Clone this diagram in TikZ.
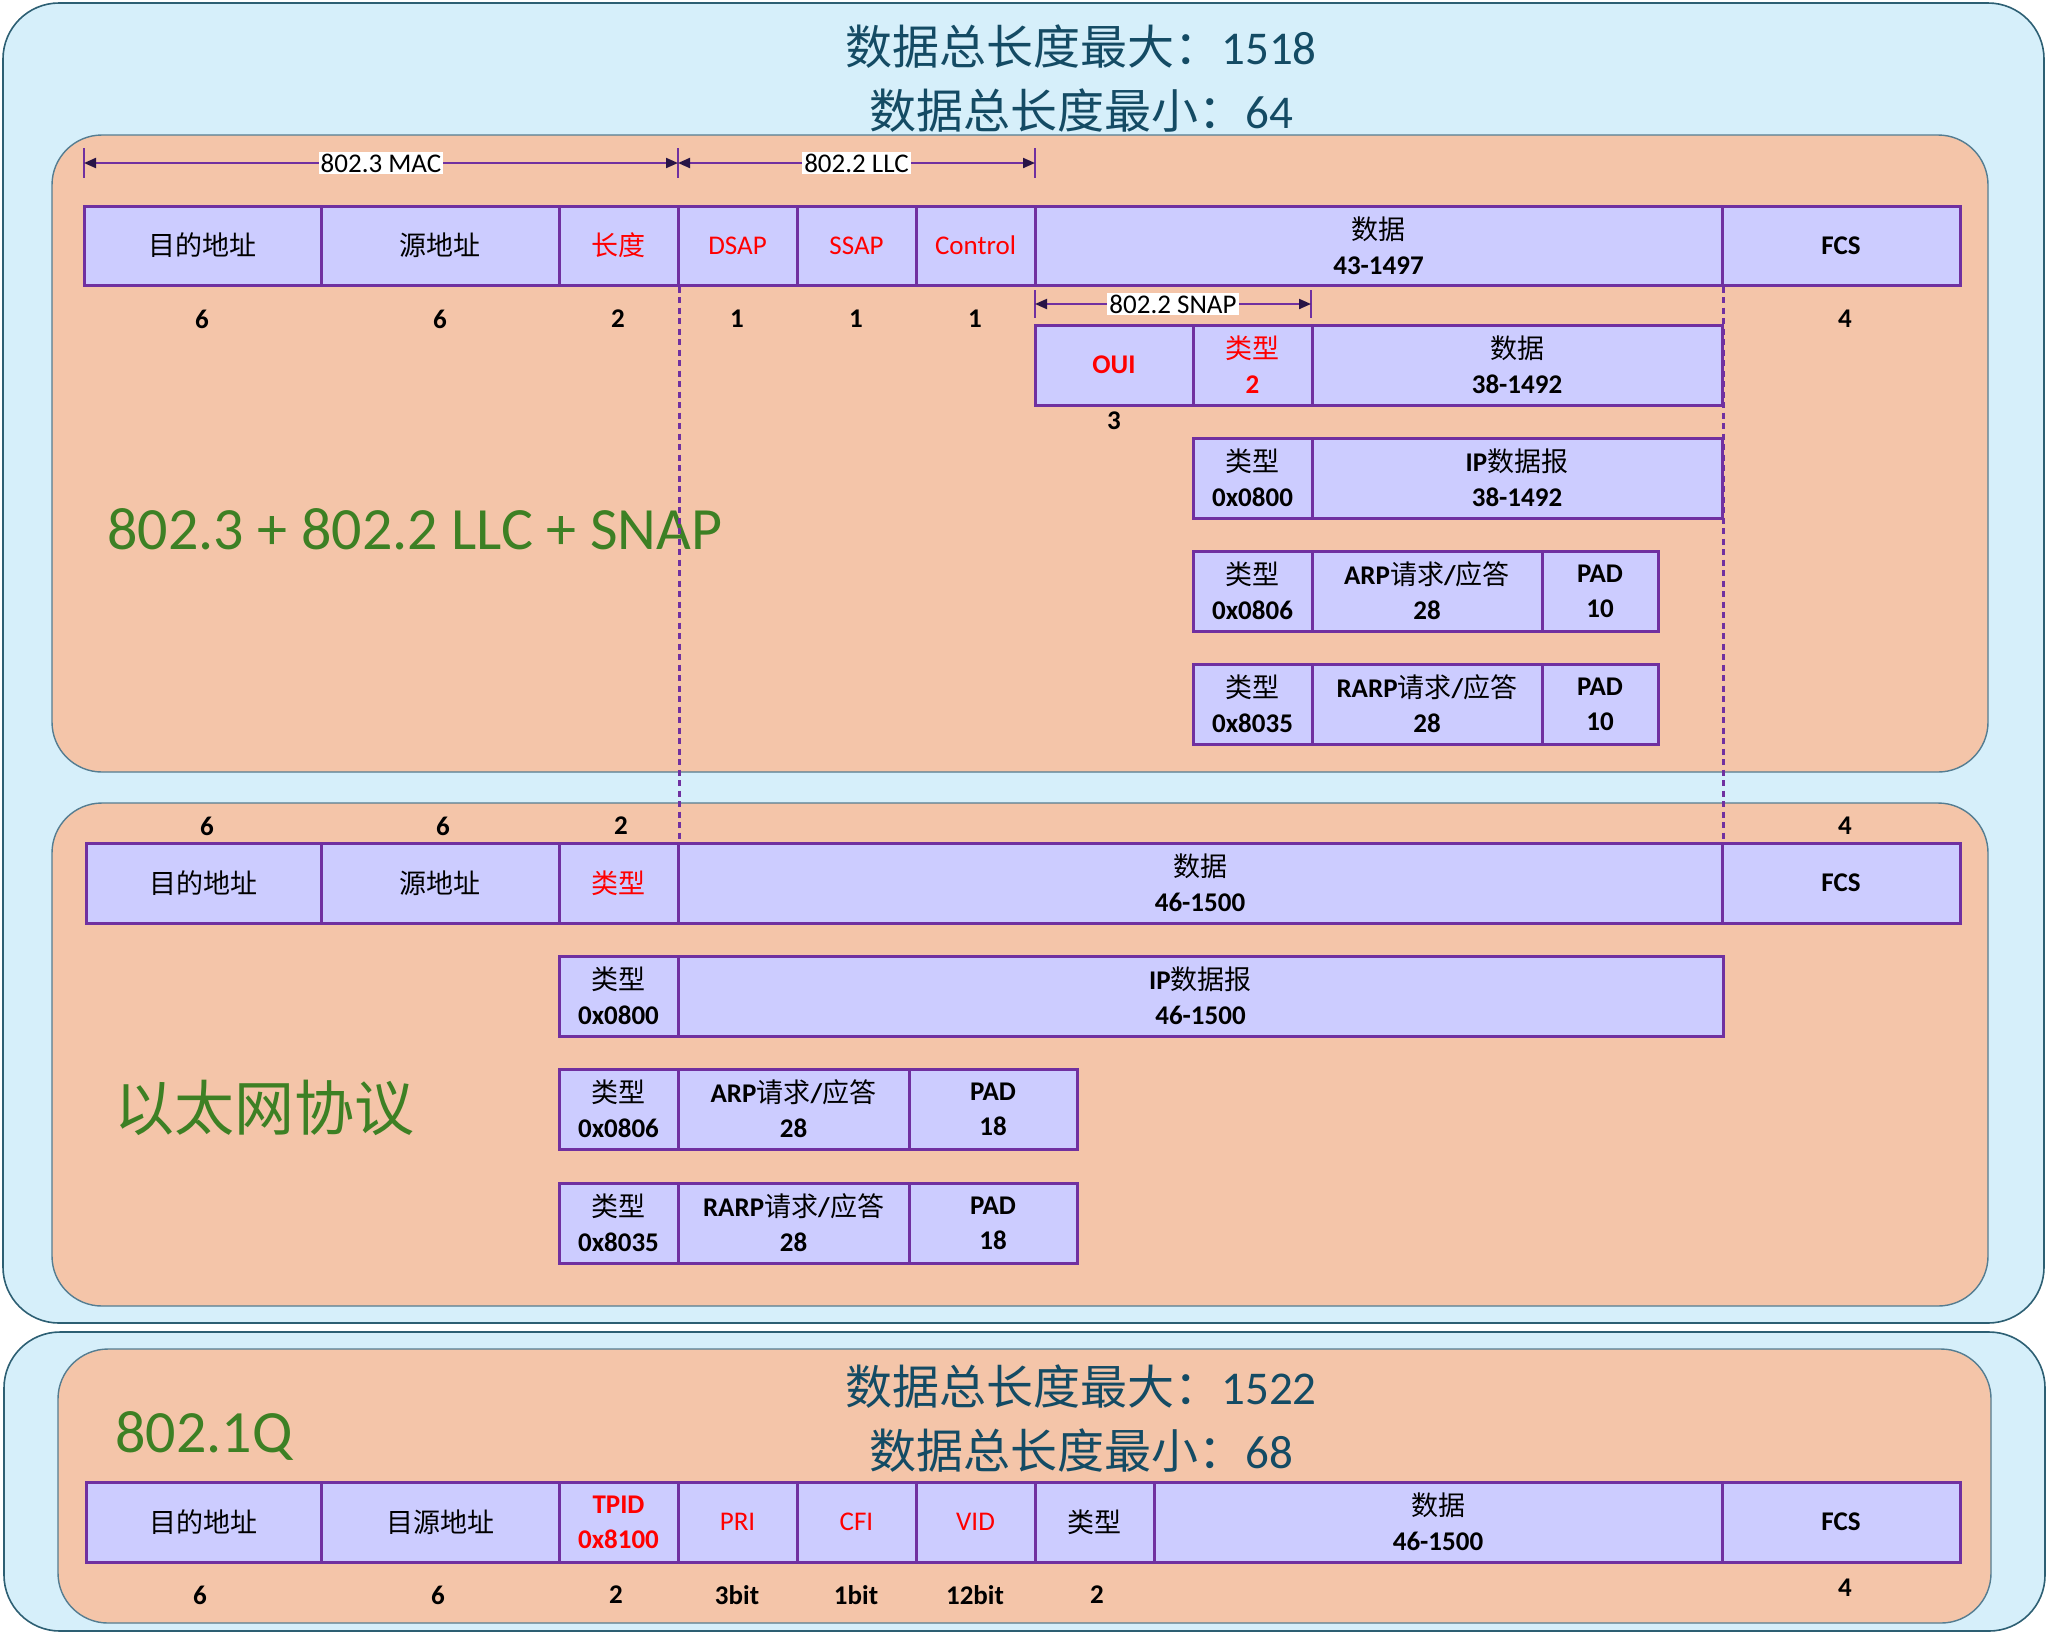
\documentclass[tikz,border=0pt]{standalone}
\usepackage{fontspec}
\setmainfont{Carlito}
\newfontfamily\cjk{Noto Sans CJK SC}
\usetikzlibrary{arrows.meta}
\definecolor{outerfill}{RGB}{214,239,250}
\definecolor{outerline}{RGB}{45,95,115}
\definecolor{panelfill}{RGB}{244,197,169}
\definecolor{panelline}{RGB}{85,125,145}
\definecolor{cellfill}{RGB}{204,204,255}
\definecolor{cellline}{RGB}{112,48,160}
\definecolor{titlecol}{RGB}{20,75,100}
\definecolor{greencol}{RGB}{61,128,36}
\definecolor{redcol}{RGB}{255,0,0}
\definecolor{tipcol}{RGB}{40,20,70}
\newcommand\zh[1]{{\cjk #1}}
\newcommand\fld[7][]{\node[cell,#1,minimum width={(#4-#3)*0.5pt},minimum height={(#6-#5)*0.5pt}] (#2) at ({(#3+#4)/2},{(#5+#6)/2}) {#7};}
\tikzset{
  outerbox/.style={draw=outerline, fill=outerfill, line width=0.8pt, rounded corners=28pt},
  panel/.style={draw=panelline, fill=panelfill, line width=0.7pt, rounded corners=25pt},
  cell/.style={draw=cellline, fill=cellfill, line width=1.5pt, inner sep=0pt, align=center,
    font=\fontsize{13.5}{17.5}\selectfont},
  num/.style={inner sep=0pt, font=\bfseries\fontsize{13.5}{16}\selectfont},
  titletext/.style={inner sep=0pt, text=titlecol, font=\fontsize{23.5}{27}\selectfont},
  greentext/.style={inner sep=0pt, text=greencol, font=\fontsize{30}{34}\selectfont},
  dimline/.style={draw=cellline, line width=1pt,
    {Triangle[length=6pt,width=5pt,color=tipcol]}-{Triangle[length=6pt,width=5pt,color=tipcol]}},
  tickline/.style={draw=cellline, line width=1.2pt},
  dimlabel/.style={fill=white, inner sep=1pt, font=\fontsize{13.5}{16}\selectfont},
  dashline/.style={draw=cellline, line width=1.5pt, dash pattern=on 3pt off 2.25pt},
}
\begin{document}
\begin{tikzpicture}[x=0.5pt,y=-0.5pt]
\useasboundingbox (0,0) rectangle (2048,1634);
% panels
\draw[outerbox] (3,3) rectangle (2044,1323);
\draw[panel] (52,135) rectangle (1988,772);
\draw[panel] (52,803) rectangle (1988,1306);
\draw[outerbox] (4,1332) rectangle (2045,1631);
\draw[panel] (58,1349) rectangle (1991,1623);
% titles
\node[titletext] (t1) at (1081,47) {\zh{数据总长度最大：}1518};
\node[titletext] (t2) at (1081,111) {\zh{数据总长度最小：}64};
\node[titletext] (t3) at (1081,1387) {\zh{数据总长度最大：}1522};
\node[titletext] (t4) at (1081,1451) {\zh{数据总长度最小：}68};
% green labels
\node[greentext, anchor=base west] (g1) at (107,549) {802.3 + 802.2 LLC + SNAP};
\node[greentext, anchor=west] (g2) at (114,1108) {\zh{以太网协议}};
\node[greentext, anchor=base west] (g3) at (115,1452) {802.1Q};
% dimension lines
\coordinate (d0) at (84,163);
\coordinate (d1) at (678,163);
\coordinate (d2) at (1035,163);
\coordinate (d3) at (1035,304);
\coordinate (d4) at (1311,304);
\draw[tickline] (84,148) -- (84,178);
\draw[tickline] (678,148) -- (678,178);
\draw[tickline] (1035,148) -- (1035,178);
\draw[tickline] (1035,290) -- (1035,318);
\draw[tickline] (1311,290) -- (1311,318);
\draw[dimline] (d0) -- node[dimlabel] (l1) {802.3 MAC} (d1);
\draw[dimline] (d1) -- node[dimlabel] (l2) {802.2 LLC} (d2);
\draw[dimline] (d3) -- node[dimlabel] (l3) {802.2 SNAP} (d4);
% row 1: 802.3
\fld{r1a}{84}{321}{206}{285}{\zh{目的地址}}
\fld{r1b}{321}{559}{206}{285}{\zh{源地址}}
\fld[text=redcol]{r1c}{559}{678}{206}{285}{\zh{长度}}
\fld[text=redcol]{r1d}{678}{797}{206}{285}{DSAP}
\fld[text=redcol]{r1e}{797}{916}{206}{285}{SSAP}
\fld[text=redcol]{r1f}{916}{1035}{206}{285}{Control}
\fld{r1g}{1035}{1722}{206}{285}{\zh{数据}\\\textbf{43-1497}}
\fld{r1h}{1722}{1960}{206}{285}{\textbf{FCS}}
\node[num] (n1a) at (202,319) {6};
\node[num] (n1b) at (440,319) {6};
\node[num] (n1c) at (618,319) {2};
\node[num] (n1d) at (737,319) {1};
\node[num] (n1e) at (856,319) {1};
\node[num] (n1f) at (975,319) {1};
\node[num] (n1h) at (1845,319) {4};
% SNAP
\fld[text=redcol]{s1}{1035}{1193}{325}{405}{\textbf{OUI}}
\fld[text=redcol]{s2}{1193}{1312}{325}{405}{\zh{类型}\\\textbf{2}}
\fld{s3}{1312}{1722}{325}{405}{\zh{数据}\\\textbf{38-1492}}
\node[num] (n3) at (1114,421) {3};
\fld{s4}{1193}{1312}{438}{518}{\zh{类型}\\\textbf{0x0800}}
\fld{s5}{1312}{1722}{438}{518}{\textbf{IP}\zh{数据报}\\\textbf{38-1492}}
\fld{s6}{1193}{1312}{551}{631}{\zh{类型}\\\textbf{0x0806}}
\fld{s7}{1312}{1542}{551}{631}{\textbf{ARP}\zh{请求}\textbf{/}\zh{应答}\\\textbf{28}}
\fld{s8}{1542}{1658}{551}{631}{\textbf{PAD}\\\textbf{10}}
\fld{s9}{1193}{1312}{664}{744}{\zh{类型}\\\textbf{0x8035}}
\fld{s10}{1312}{1542}{664}{744}{\textbf{RARP}\zh{请求}\textbf{/}\zh{应答}\\\textbf{28}}
\fld{s11}{1542}{1658}{664}{744}{\textbf{PAD}\\\textbf{10}}
% Ethernet
\node[num] (n2a) at (207,826) {6};
\node[num] (n2b) at (443,826) {6};
\node[num] (n2c) at (621,826) {2};
\node[num] (n2e) at (1845,826) {4};
\fld{e1a}{86}{321}{843}{923}{\zh{目的地址}}
\fld{e1b}{321}{559}{843}{923}{\zh{源地址}}
\fld[text=redcol]{e1c}{559}{678}{843}{923}{\zh{类型}}
\fld{e1d}{678}{1722}{843}{923}{\zh{数据}\\\textbf{46-1500}}
\fld{e1e}{1722}{1960}{843}{923}{\textbf{FCS}}
\fld{e2a}{559}{678}{956}{1036}{\zh{类型}\\\textbf{0x0800}}
\fld{e2b}{678}{1723}{956}{1036}{\textbf{IP}\zh{数据报}\\\textbf{46-1500}}
\fld{e3a}{559}{678}{1069}{1149}{\zh{类型}\\\textbf{0x0806}}
\fld{e3b}{678}{909}{1069}{1149}{\textbf{ARP}\zh{请求}\textbf{/}\zh{应答}\\\textbf{28}}
\fld{e3c}{909}{1077}{1069}{1149}{\textbf{PAD}\\\textbf{18}}
\fld{e4a}{559}{678}{1183}{1263}{\zh{类型}\\\textbf{0x8035}}
\fld{e4b}{678}{909}{1183}{1263}{\textbf{RARP}\zh{请求}\textbf{/}\zh{应答}\\\textbf{28}}
\fld{e4c}{909}{1077}{1183}{1263}{\textbf{PAD}\\\textbf{18}}
% dashed guides
\draw[dashline] (r1c.south east) -- (e1c.north east);
\draw[dashline] (r1g.south east) -- (e1d.north east);
% 802.1Q
\fld{q1}{86}{321}{1482}{1562}{\zh{目的地址}}
\fld{q2}{321}{559}{1482}{1562}{\zh{目源地址}}
\fld[text=redcol]{q3}{559}{678}{1482}{1562}{\textbf{TPID}\\\textbf{0x8100}}
\fld[text=redcol]{q4}{678}{797}{1482}{1562}{PRI}
\fld[text=redcol]{q5}{797}{916}{1482}{1562}{CFI}
\fld[text=redcol]{q6}{916}{1035}{1482}{1562}{VID}
\fld{q7}{1035}{1154}{1482}{1562}{\zh{类型}}
\fld{q8}{1154}{1722}{1482}{1562}{\zh{数据}\\\textbf{46-1500}}
\fld{q9}{1722}{1960}{1482}{1562}{\textbf{FCS}}
\node[num] (n4a) at (200,1595) {6};
\node[num] (n4b) at (438,1595) {6};
\node[num] (n4c) at (616,1595) {2};
\node[num] (n4d) at (737,1595) {3bit};
\node[num] (n4e) at (856,1595) {1bit};
\node[num] (n4f) at (975,1595) {12bit};
\node[num] (n4g) at (1097,1595) {2};
\node[num] (n4h) at (1845,1588) {4};
\end{tikzpicture}
\end{document}
